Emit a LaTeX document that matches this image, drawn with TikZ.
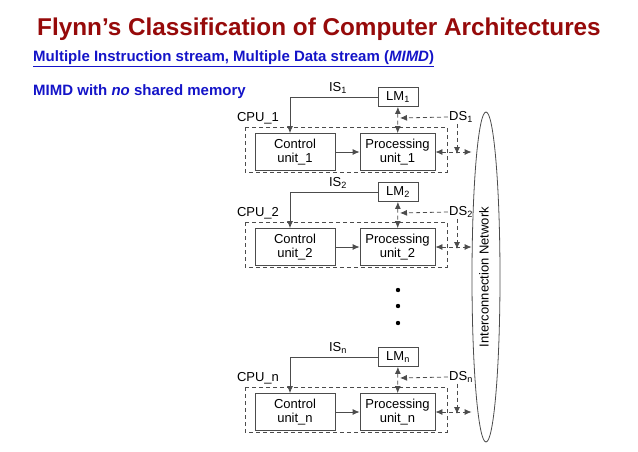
\documentclass[tikz,border=0pt]{standalone}
\usepackage{fontspec}
\setmainfont{Liberation Sans}
\usetikzlibrary{arrows.meta,shapes.geometric}
\definecolor{titlered}{RGB}{150,10,10}
\definecolor{navy}{RGB}{20,20,200}
\begin{document}
\begin{tikzpicture}[x=1pt,y=-1pt,
  box/.style={draw=gray!60!black,line width=0.8pt,minimum width=#1,align=center,inner sep=1pt,font=\fontsize{13}{14}\selectfont},
  lbl/.style={font=\fontsize{13}{14}\selectfont,inner sep=1pt},
  ln/.style={draw=gray!60!black,line width=0.8pt},
  tip/.style={-{Latex[length=7pt,width=6pt]}},
  ar/.style={ln,tip},
  dar/.style={ln,dash pattern=on 4pt off 3pt,{Latex[length=7pt,width=6pt]}-{Latex[length=7pt,width=6pt]}},
  dsh/.style={ln,dash pattern=on 4pt off 3pt,tip}]
\useasboundingbox (0,0) rectangle (638,451);
\node[font=\bfseries\fontsize{24.3}{27}\selectfont,text=titlered] (title) at (319,29) {Flynn’s Classification of Computer Architectures};
\node[anchor=west,font=\bfseries\fontsize{15}{17}\selectfont,text=navy,inner sep=0pt] (sub) at (33,59) {\underline{Multiple Instruction stream, Multiple Data stream (\textit{MIMD})}};
\node[anchor=west,font=\bfseries\fontsize{15}{17}\selectfont,text=navy,inner sep=0pt] (mimd) at (33,92) {MIMD with \textit{no} shared memory};
\node[ln,ellipse,minimum width=28,minimum height=330,inner sep=0pt] (net) at (486,277) {};
\node[rotate=90,lbl] (netl) at (484,277) {Interconnection Network};
\foreach \i/\oy/\s in {1/0/1,2/95/2,3/260/n}{
  \begin{scope}[yshift=-\oy]
  \draw[ln,dash pattern=on 4pt off 3pt] (245,127) rectangle (447,172);
  \node[box=80pt,minimum height=37pt] (cu\i) at (295,152) {Control\\unit\_\s};
  \node[box=75pt,minimum height=37pt] (pu\i) at (397.5,152) {Processing\\unit\_\s};
  \node[box=40pt,minimum height=19pt] (lm\i) at (398,97) {LM$_\mathrm{\s}$};
  \node[lbl] (is\i) at (338,88) {IS$_\mathrm{\s}$};
  \node[lbl] (cpu\i) at (258,118) {CPU\_\s};
  \node[lbl] (ds\i) at (461,117) {DS$_\mathrm{\s}$};
  \coordinate (c\i) at (290,97);
  \coordinate (m\i) at (400,118);
  \coordinate (d\i) at (457,152);
  \draw[ar] (lm\i.west) -- (c\i) -- (cu\i.north -| c\i);
  \draw[ar] (cu\i) -- (pu\i);
  \draw[dar] (lm\i) -- (pu\i);
  \draw[dsh] (ds\i.west) -- (m\i);
  \draw[dsh] (ds\i.south -| d\i) -- ([yshift=-2]d\i);
  \draw[dar] (pu\i.east) -- (pu\i.east -| net.west);
  \end{scope}
}
\foreach \y [count=\k] in {290,306,323} \fill (398,\y) circle (2.2pt);
\end{tikzpicture}
\end{document}
